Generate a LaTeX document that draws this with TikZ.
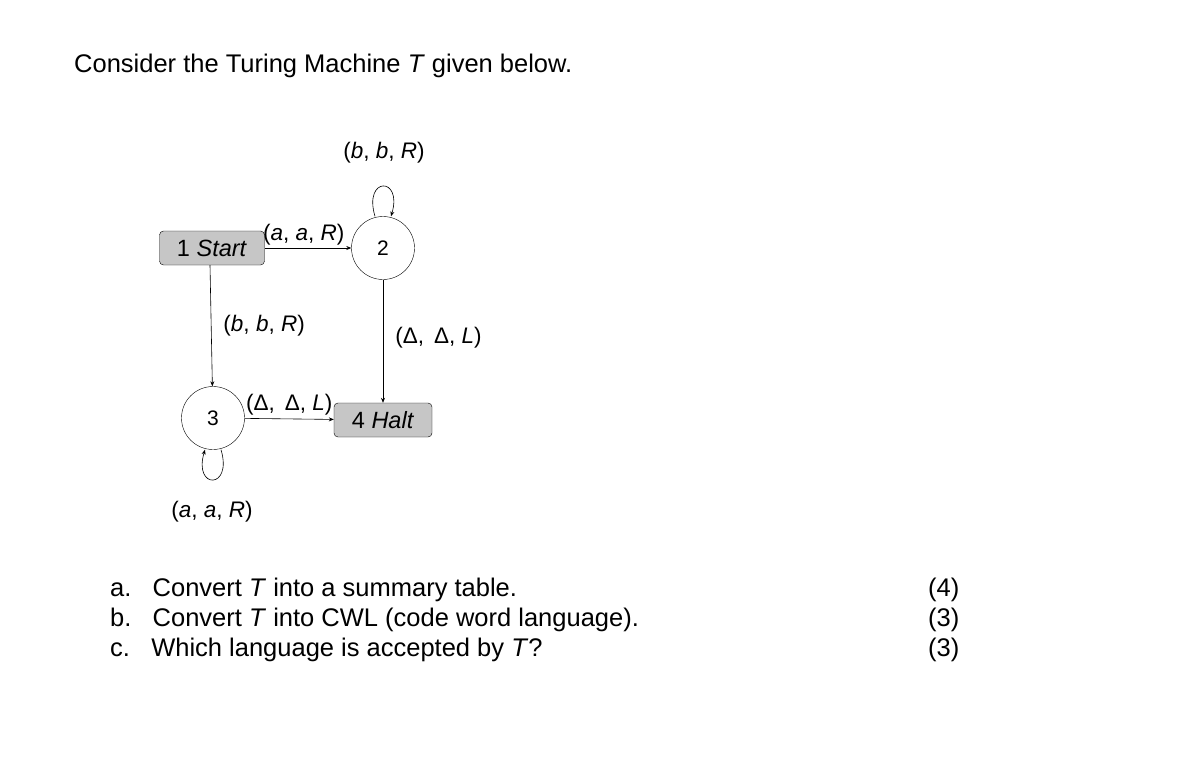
\documentclass[tikz,border=0pt]{standalone}
\usepackage{fontspec}
\setmainfont{Liberation Sans}
\usetikzlibrary{arrows.meta}
\begin{document}
\begin{tikzpicture}[x=1pt,y=-1pt,
  txt/.style={font=\fontsize{25.5}{28}\selectfont, anchor=west, inner sep=0},
  lbl/.style={font=\fontsize{22.5}{26}\selectfont, inner sep=0},
  term/.style={draw, fill=gray!45, rounded corners=4pt, minimum height=34, font=\fontsize{23.5}{26}\selectfont, inner sep=3},
  st/.style={draw, circle, minimum size=63, font=\fontsize{21}{24}\selectfont, fill=white},
  edge/.style={-{Stealth[length=5pt,width=4pt]}, line width=0.6pt}]
\useasboundingbox (0,0) rectangle (1191,763);
\node[txt] (title) at (74,66) {Consider the Turing Machine \textit{T} given below.};
\node[term, minimum width=105] (s1) at (212,248) {1 \textit{Start}};
\node[st] (s2) at (383,248) {2};
\node[st] (s3) at (213,418) {3};
\node[term, minimum width=98] (s4) at (383,420) {4 \textit{Halt}};
\draw[edge] (s1) -- node[lbl, above=3pt, pos=0.45] {(\textit{a}, \textit{a}, \textit{R})} (s2);
\draw[edge] (s1.south -| 210,0) -- node[lbl, right=12pt] {(\textit{b}, \textit{b}, \textit{R})} (s3);
\draw[edge] (s2) -- node[lbl, right=12pt, pos=0.47] {(Δ,\, Δ, \textit{L})} (s4);
\draw[edge] (s3) -- node[lbl, above=3pt, pos=0.5] {(Δ,\, Δ, \textit{L})} (s4);
\draw[edge] ([xshift=-8pt]s2.north) .. controls +(-12,-40) and +(12,-40) .. ([xshift=8pt]s2.north);
\node[lbl] (l2) at (384,153) {(\textit{b}, \textit{b}, \textit{R})};
\draw[edge] ([xshift=8pt]s3.south) .. controls +(12,40) and +(-12,40) .. ([xshift=-8pt]s3.south);
\node[lbl] (l3) at (212,512) {(\textit{a}, \textit{a}, \textit{R})};
\node[txt] (qa) at (110,590) {a.\ \ \ Convert \textit{T} into a summary table.};
\node[txt] (qb) at (110,620) {b.\ \ \ Convert \textit{T} into CWL (code word language).};
\node[txt] (qc) at (110,650) {c.\ \ \ Which language is accepted by \textit{T}?};
\node[txt] (ma) at (928,590) {(4)};
\node[txt] (mb) at (928,620) {(3)};
\node[txt] (mc) at (928,650) {(3)};
\end{tikzpicture}
\end{document}
